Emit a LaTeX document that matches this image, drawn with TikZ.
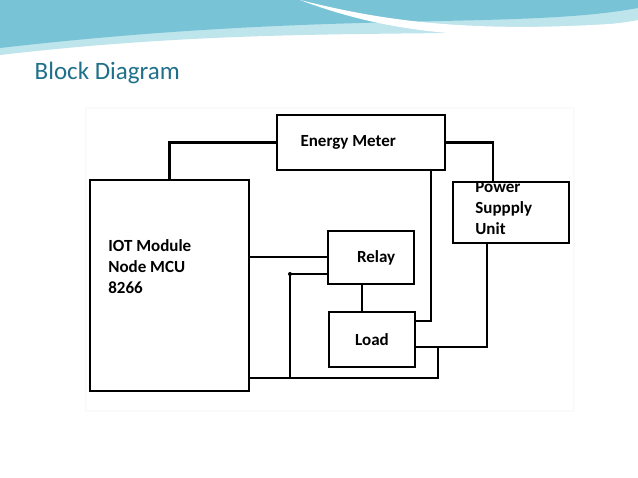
\documentclass[tikz,border=0pt]{standalone}
\usepackage{fontspec}
\setmainfont{Carlito}
\definecolor{teal1}{RGB}{31,112,138}
\definecolor{wave1}{RGB}{120,196,214}
\definecolor{wave2}{RGB}{190,228,236}
\tikzset{every picture/.style={line width=0.75pt}}
\tikzset{blk/.style={draw,line width=2.6pt,font=\bfseries\fontsize{17}{21}\selectfont,align=left,inner sep=0pt},
  lbl/.style={font=\bfseries\fontsize{17}{21}\selectfont,align=left,anchor=north west,inner sep=0pt},
  wire/.style={line width=2.6pt}}
\begin{document}
\begin{tikzpicture}[x=1pt,y=1pt,yscale=-1,xscale=1]
		\useasboundingbox (0,0) rectangle (638,478);
		%background
		\fill[white] (0,0) rectangle (638,478);
		\fill[wave2] (0,0) -- (638,0) -- (638,20) .. controls (500,45) and (300,20) .. (0,55) -- cycle;
		\fill[wave1] (0,0) -- (638,0) -- (638,8) .. controls (520,30) and (330,10) .. (0,48) -- cycle;
		\fill[white] (300,0) .. controls (380,20) and (470,35) .. (638,22) -- (638,30) .. controls (470,45) and (380,30) .. (300,0) -- cycle;
		\fill[white!98!black] (85,107) rectangle (575,412);
		\fill[white] (87,109) rectangle (573,410);
		% Title
		\node[anchor=west,text=teal1,font=\fontsize{25}{30}\selectfont] (title) at (31,73) {Block Diagram};

		% Blocks
		\node[blk,minimum width=159pt,minimum height=211pt] (iot) at (169.5,285.5) {};
		\node[lbl] (iottxt) at (108,239) {IOT Module\\Node MCU\\8266};
		\node[blk,minimum width=168pt,minimum height=55pt] (em) at (361,142.5) {\hspace*{-1.5em}Energy Meter};
		\node[blk,minimum width=116pt,minimum height=61pt] (psu) at (511,212.5) {};
		\node[lbl] (psutxt) at (475,181) {Power\\Suppply\\Unit};
		\node[blk,minimum width=86pt,minimum height=53pt] (relay) at (371,257.5) {\hspace*{0.6em}Relay};
		\node[blk,minimum width=86pt,minimum height=55pt] (load) at (372,339.5) {Load};

		% Junction points
		\coordinate (j1) at (290,274);
		\coordinate (j2) at (290,378);
		\coordinate (j3) at (438,378);
		\coordinate (j4) at (415,347);

		% Wires
		\draw[wire] (iot.north) |- (em.west);
		\draw[wire] (em.east) -| (psu.north -| 493,0);
		\draw[wire] (em.south -| 431,0) |- (load.east |- 0,321);
		\draw[wire] (psu.south -| 487,0) |- (j4);
		\draw[wire] (relay.south -| 362,0) -- (load.north -| 362,0);
		\draw[wire] (iot.east |- 0,257) -- (relay.west |- 0,257);
		\draw[wire] (relay.west |- j1) -- (j1) -- (j2);
		\draw[wire] (iot.east |- j2) -- (j3) |- (j4);
		\fill (j1) circle (2pt);
\end{tikzpicture}
\end{document}
